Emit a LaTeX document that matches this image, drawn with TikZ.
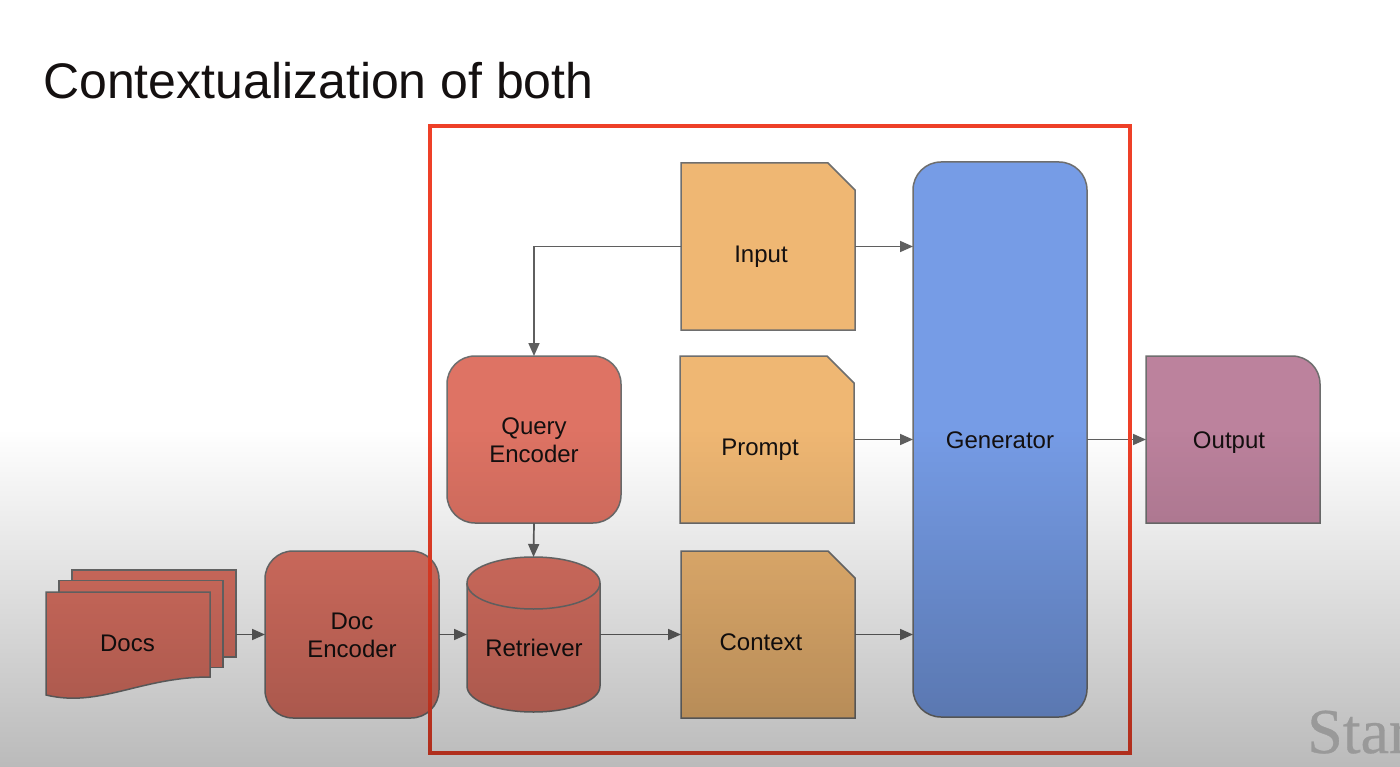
\documentclass[tikz,border=0pt]{standalone}
\usepackage{fontspec}
\setmainfont{Liberation Sans}
\newfontfamily\wmfont[FakeBold=0.5]{Liberation Serif}
\usetikzlibrary{arrows.meta,fadings}
\definecolor{redbox}{HTML}{DE7364}
\definecolor{orangebox}{HTML}{EFB773}
\definecolor{bluebox}{HTML}{769CE6}
\definecolor{plumbox}{HTML}{BC829D}
\definecolor{edge}{HTML}{6E6E6E}
\definecolor{wire}{HTML}{5F5F5F}
\definecolor{frame}{HTML}{EE4028}
\definecolor{ink}{HTML}{141010}
\tikzfading[name=floorfade, top color=transparent!100, bottom color=transparent!73]
\newcommand{\notepath}[1]{%
  \draw[outline,fill=orangebox] (#1.south west) -- (#1.north west)
    -- ([xshift=-27pt]#1.north east) -- ([yshift=-27pt]#1.north east)
    -- (#1.south east) -- cycle;}
\tikzset{
  x=1pt,y=-1pt,
  outline/.style={draw=edge,line width=1.5pt},
  label/.style={font=\fontsize{24}{28}\selectfont,text=ink,align=center,inner sep=0pt},
  chip/.style={outline,fill=redbox,rounded corners=28pt,minimum width=174pt,minimum height=167pt,inner sep=0pt,outer sep=0pt},
  ghost/.style={inner sep=0pt,outer sep=0pt,minimum width=174pt,minimum height=167pt},
  wired/.style={draw=wire,line width=1.7pt,-{Triangle[length=13pt,width=11pt,fill=wire]}}
}
\begin{document}
\begin{tikzpicture}
\useasboundingbox (0,0) rectangle (1400,767);
\fill[white] (0,0) rectangle (1400,767);

% title
\node[anchor=base west,inner sep=0pt,font=\fontsize{50}{56}\selectfont,text=ink] (title) at (43,99) {Contextualization of both};

% document stack
\node[outline,fill=redbox,inner sep=0pt,outer sep=0pt,minimum width=164pt,minimum height=87pt] (docsback) at (154,613.5) {};
\node[outline,fill=redbox,inner sep=0pt,outer sep=0pt,minimum width=164pt,minimum height=87pt] (docsmid) at (141,624) {};
\draw[outline,fill=redbox] (46,592) -- (210,592) -- (210,677)
  .. controls (140,677) and (100,708) .. (46,695) -- cycle;
\node[label] (docs) at (127.5,643.5) {Docs};

% main boxes
\node[chip] (docenc) at (352,634.5) {};
\node[label] at (352,635.5) {Doc\\Encoder};
\node[chip] (query) at (534,439.5) {};
\node[label] at (534,440) {Query\\Encoder};

% retriever
\draw[outline,fill=redbox] (467,583) .. controls (467,568) and (497,557) .. (533.5,557)
  .. controls (570,557) and (600,568) .. (600,583) -- (600,686)
  .. controls (600,701) and (570,712) .. (533.5,712)
  .. controls (497,712) and (467,701) .. (467,686) -- cycle;
\draw[outline] (467,583) .. controls (467,598) and (497,609) .. (533.5,609)
  .. controls (570,609) and (600,598) .. (600,583);
\node[ghost,minimum width=133pt,minimum height=155pt] (retriever) at (533.5,634.5) {};
\node[label] at (534,648) {Retriever};

% notes
\node[ghost] (input) at (768,246.5) {};
\notepath{input}
\node[label] at (761,257) {Input};
\node[ghost] (prompt) at (767,439.5) {};
\notepath{prompt}
\node[label] at (760,450) {Prompt};
\node[ghost] (context) at (768,634.5) {};
\notepath{context}
\node[label] at (761,642) {Context};

% generator
\node[chip,fill=bluebox,minimum height=555pt] (generator) at (1000,439.5) {};
\node[label] at (1000,440) {Generator};

% output
\node[ghost] (output) at (1233,439.5) {};
\draw[outline,fill=plumbox] (output.south west) -- (output.north west) -- (1292,356)
  .. controls (1307.5,356) and (1320,368.5) .. (1320,384) -- (output.south east) -- cycle;
\node[label] at (1229,443) {Output};

% connectors
\draw[wired] (docsback.east |- docenc.west) -- (docenc.west);
\draw[wired] (docenc.east) -- (retriever.west);
\draw[wired] (retriever.east) -- (context.west);
\draw[wired] (context.east) -- (generator.west |- context.east);
\draw[wired] (prompt.east) -- (generator.west |- prompt.east);
\draw[wired] (input.east) -- (generator.west |- input.east);
\draw[wired] (generator.east) -- (output.west);
\draw[wired] (input.west) -| (query.north);
\draw[wired] (query.south) -- (retriever.north);

% red frame
\draw[frame,line width=4pt] (430,126) rectangle (1130,753);

% fading floor
\fill[black,path fading=floorfade] (0,430) rectangle (1400,767);

% watermark
\begin{scope}
\clip (0,0) rectangle (1400,767);
\node[anchor=base west,inner sep=0pt,font=\wmfont\fontsize{64}{64}\selectfont,text=black!40] (mark) at (1307,753) {Star};
\end{scope}
\end{tikzpicture}
\end{document}
